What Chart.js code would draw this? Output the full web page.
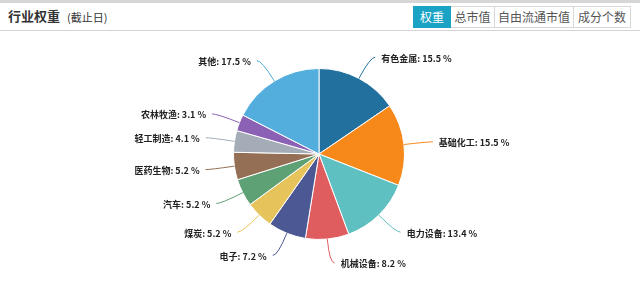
<!DOCTYPE html>
<html>
<head>
<meta charset="utf-8">
<script src="https://cdn.jsdelivr.net/npm/chart.js@4"></script>
<style>
    html, body { margin: 0; padding: 0; background: #fff; }
    body { width: 640px; height: 285px; position: relative; overflow: hidden;
           font-family: "Noto Sans CJK SC", "Noto Sans", sans-serif; }
    .topband { position: absolute; left: 0; top: 0; width: 640px; height: 3px; background: #d6d6d6; }
    .header { position: absolute; left: 0; top: 3px; width: 640px; height: 27px; border-bottom: 1px solid #d4d4d4; }
    .title { position: absolute; left: 8px; top: 5px; font-size: 13px; font-weight: bold; color: #333; line-height: 16px; }
    .sub { position: absolute; left: 67px; top: 7px; font-size: 11px; color: #333; line-height: 14px; }
    .tabs { position: absolute; left: 413px; top: 3px; height: 22px; display: flex; }
    .tab { height: 20px; line-height: 20px; font-size: 12px; color: #555; text-align: center;
           border: 1px solid #d8d8d8; border-left: none; background: #fff; }
    .tab.first { border-left: 1px solid #d8d8d8; }
    .tab.active { background: #1ba3c6; color: #fff; border-color: #1ba3c6; }
    #chart { position: absolute; left: 0; top: 0; }
</style>
</head>
<body>
<div class="topband"></div>
<div class="header">
    <div class="title">行业权重</div>
    <div class="sub">(截止日)</div>
    <div class="tabs">
        <div class="tab first active" style="width:36px">权重</div>
        <div class="tab" style="width:43px">总市值</div>
        <div class="tab" style="width:78px">自由流通市值</div>
        <div class="tab" style="width:56px">成分个数</div>
    </div>
</div>
<canvas id="chart" width="640" height="285"></canvas>
<script>
// Industry weights (%), clockwise from 12 o'clock.
const industries = ['有色金属', '基础化工', '电力设备', '机械设备', '电子', '煤炭', '汽车', '医药生物', '轻工制造', '农林牧渔', '其他'];
const weights = [15.5, 15.5, 13.4, 8.2, 7.2, 5.2, 5.2, 5.2, 4.1, 3.1, 17.5];
const sliceColors = ['#22709d', '#f7891b', '#5fc0c2', '#e05d5f', '#4b5894', '#e6c35b', '#5ea174', '#946e55', '#a4adb7', '#8b61b5', '#53aedd'];

// Leader lines + "name: value %" labels, drawn from the arc geometry.
const pieLabels = {
    id: 'pieLabels',
    afterDatasetsDraw(chart) {
        const ctx = chart.ctx;
        const meta = chart.getDatasetMeta(0);
        ctx.save();
        ctx.font = 'bold 9px "Noto Sans CJK SC", "Noto Sans", sans-serif';
        ctx.textBaseline = 'middle';
        meta.data.forEach(function (arc, i) {
            const p = arc.getProps(['x', 'y', 'startAngle', 'endAngle', 'outerRadius'], true);
            const mid = (p.startAngle + p.endAngle) / 2;
            const c = Math.cos(mid), s = Math.sin(mid);
            const r0 = p.outerRadius, r1 = p.outerRadius + 24;
            const x0 = p.x + c * r0, y0 = p.y + s * r0;
            const x1 = p.x + c * r1, y1 = p.y + s * r1;
            const dir = c >= 0 ? 1 : -1;
            const x2 = x1 + dir * 5;
            ctx.strokeStyle = sliceColors[i];
            ctx.lineWidth = 1;
            ctx.beginPath();
            ctx.moveTo(x0, y0);
            ctx.quadraticCurveTo(x1, y1, x2, y1);
            ctx.stroke();
            ctx.fillStyle = '#222';
            ctx.textAlign = dir > 0 ? 'left' : 'right';
            ctx.fillText(industries[i] + ': ' + weights[i] + ' %', x2 + dir * 6, y1 + 1);
        });
        ctx.restore();
    }
};

new Chart(document.getElementById('chart').getContext('2d'), {
    type: 'pie',
    data: {
        labels: industries,
        datasets: [{
            data: weights,
            backgroundColor: sliceColors,
            borderColor: '#ffffff',
            borderWidth: 1
        }]
    },
    options: {
        responsive: false,
        animation: false,
        layout: { padding: { top: 68, bottom: 45, left: 0, right: 2 } },
        plugins: {
            legend: { display: false },
            tooltip: { enabled: false }
        }
    },
    plugins: [pieLabels]
});
</script>
</body>
</html>
